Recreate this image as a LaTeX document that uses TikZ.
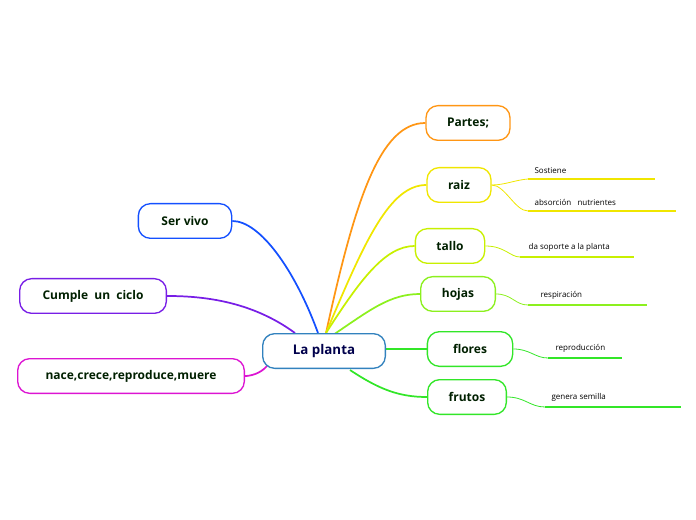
\documentclass[tikz,border=0pt]{standalone}
\usepackage{fontspec}
\setmainfont{Open Sans}
\begin{document}
\begin{tikzpicture}[x=0.75pt,y=-0.75pt,
  topic/.style={draw=#1,line width=1pt,rounded corners=9pt,fill=white,minimum height=26pt,inner xsep=6pt,font=\small\bfseries,text=black!75!green!50!black},
  sub/.style={font=\fontsize{6}{7}\selectfont,anchor=south west,inner sep=1pt},
  con/.style={draw=#1,line width=1.3pt},
  ul/.style={draw=#1,line width=1.2pt}]
\useasboundingbox (0,0) rectangle (696,520);
\definecolor{cor}{RGB}{255,150,20}
\definecolor{cy}{RGB}{240,230,0}
\definecolor{cyg}{RGB}{200,240,0}
\definecolor{clg}{RGB}{140,240,30}
\definecolor{cg}{RGB}{50,230,40}
\definecolor{cb}{RGB}{20,80,255}
\definecolor{cp}{RGB}{120,30,230}
\definecolor{cm}{RGB}{220,20,210}
\definecolor{cc}{RGB}{50,130,190}
\coordinate (o) at (326,333);
\node[topic=cor,minimum width=63pt] (partes) at (468,123) {Partes;};
\node[topic=cy,minimum width=48pt] (raiz) at (459,185) {raiz};
\node[topic=cyg,minimum width=52pt] (tallo) at (450,246) {tallo};
\node[topic=clg,minimum width=56pt] (hojas) at (458,294) {hojas};
\node[topic=cg,minimum width=64pt] (flores) at (470,349) {flores};
\node[topic=cg,minimum width=59pt] (frutos) at (467,397) {frutos};
\node[topic=cb,minimum width=70pt] (ser) at (185,221) {Ser vivo};
\node[topic=cp,minimum width=110pt] (cumple) at (93,296) {Cumple\ \ un\ \ ciclo};
\node[topic=cm,minimum width=170pt] (nace) at (131,376) {nace,crece,reproduce,muere};
\draw[con=cor] (o) .. controls (355,200) and (380,123) .. (partes.west);
\draw[con=cy] (o) .. controls (365,240) and (390,185) .. (raiz.west);
\draw[con=cyg] (o) .. controls (360,280) and (385,246) .. (tallo.west);
\draw[con=clg] (333,335) .. controls (370,310) and (390,294) .. (hojas.west);
\draw[con=cg] (380,349) -- (flores.west);
\draw[con=cg] (350,370) .. controls (380,390) and (400,397) .. (frutos.west);
\draw[con=cb] (318,333) .. controls (295,270) and (260,221) .. (ser.east);
\draw[con=cp] (295,333) .. controls (250,300) and (200,296) .. (cumple.east);
\draw[con=cm] (267,366) .. controls (260,374) and (250,376) .. (nace.east);
\node[topic=cc,minimum width=92pt,font=\normalsize\bfseries,text=black!70!blue] (lp) at (324,351) {La planta};
\coordinate (r1) at (528,179); \coordinate (r2) at (528,211);
\draw[ul=cy] (r1) -- (655,179); \draw[ul=cy] (r2) -- (676,211);
\node[sub] at (533,175) {Sostiene};
\node[sub] at (533,207) {absorción\ \ \ nutrientes};
\draw[con=cy,line width=0.6pt] (raiz.east) .. controls (505,185) and (515,180) .. (r1);
\draw[con=cy,line width=0.6pt] (raiz.east) .. controls (505,185) and (515,211) .. (r2);
\coordinate (t1) at (520,257); \draw[ul=cyg] (t1) -- (634,257);
\node[sub] at (527,253) {da soporte a la planta};
\draw[con=cyg,line width=0.6pt] (tallo.east) .. controls (505,246) and (510,257) .. (t1);
\coordinate (h1) at (528,305); \draw[ul=clg] (h1) -- (647,305);
\node[sub] at (539,301) {respiración};
\draw[con=clg,line width=0.6pt] (hojas.east) .. controls (512,294) and (515,305) .. (h1);
\coordinate (f1) at (548,358); \draw[ul=cg] (f1) -- (622,358);
\node[sub] at (554,354) {reproducción};
\draw[con=cg,line width=0.6pt] (flores.east) .. controls (530,349) and (535,358) .. (f1);
\coordinate (g1) at (545,407); \draw[ul=cg] (g1) -- (681,407);
\node[sub] at (550,403) {genera semilla};
\draw[con=cg,line width=0.6pt] (frutos.east) .. controls (525,397) and (530,407) .. (g1);
\end{tikzpicture}
\end{document}
